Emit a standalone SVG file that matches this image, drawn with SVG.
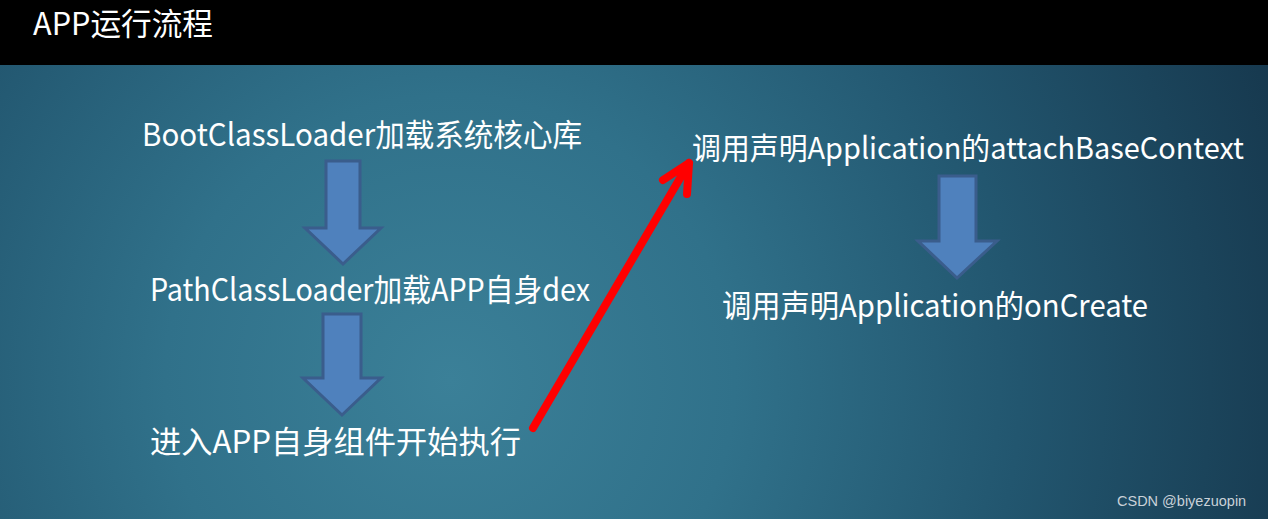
<svg xmlns="http://www.w3.org/2000/svg" width="1268" height="519" viewBox="0 0 1268 519">
  <defs>
    <radialGradient id="bg" gradientUnits="userSpaceOnUse" cx="450" cy="380" r="950" fx="450" fy="380">
      <stop offset="0" stop-color="#3b8098"/>
      <stop offset="0.3" stop-color="#30718a"/>
      <stop offset="0.6" stop-color="#22566f"/>
      <stop offset="1" stop-color="#143247"/>
    </radialGradient>
  </defs>
  <style>
    .t { font-family: "Noto Sans CJK SC", "Noto Sans", sans-serif; font-size: 31px; fill: #ffffff; }
    .blk { fill: #4f81bd; stroke: #3a5d8c; stroke-width: 3; stroke-linejoin: miter; }
    .red { fill: none; stroke: #ff0000; stroke-width: 8; stroke-linecap: round; stroke-linejoin: round; }
    .wm { font-family: "Liberation Sans", Arial, sans-serif; font-size: 14.5px; fill: #c9d1d8; }
  </style>
  <rect x="0" y="0" width="1268" height="519" fill="url(#bg)"/>
  <rect x="0" y="0" width="1268" height="65" fill="#000000"/>
  <text class="t" x="33" y="35" font-size="32" textLength="180" lengthAdjust="spacingAndGlyphs">APP运行流程</text>

  <g id="node-boot"><text class="t" x="142" y="146" textLength="440" lengthAdjust="spacingAndGlyphs">BootClassLoader加载系统核心库</text></g>
  <g id="node-path"><text class="t" x="150" y="301" textLength="440" lengthAdjust="spacingAndGlyphs">PathClassLoader加载APP自身dex</text></g>
  <g id="node-enter"><text class="t" x="150" y="453" textLength="371" lengthAdjust="spacingAndGlyphs">进入APP自身组件开始执行</text></g>
  <g id="node-attach"><text class="t" x="692" y="159" style="font-size:30px" textLength="552" lengthAdjust="spacingAndGlyphs">调用声明Application的attachBaseContext</text></g>
  <g id="node-oncreate"><text class="t" x="722" y="317" textLength="426" lengthAdjust="spacingAndGlyphs">调用声明Application的onCreate</text></g>

  <g id="connectors">
    <polygon class="blk" points="326,161 360,161 360,228 381,228 343,264 305,228 326,228"/>
    <polygon class="blk" points="323,314 361,314 361,378 381,378 342,415 303,378 323,378"/>
    <polygon class="blk" points="939,176 976,176 976,241 997,241 957,278 918,241 939,241"/>
    <line class="red" x1="533" y1="428" x2="689" y2="163"/>
    <polyline class="red" points="663,180 689,163 687,194"/>
  </g>

  <text class="wm" x="1117" y="506">CSDN @biyezuopin</text>
</svg>
